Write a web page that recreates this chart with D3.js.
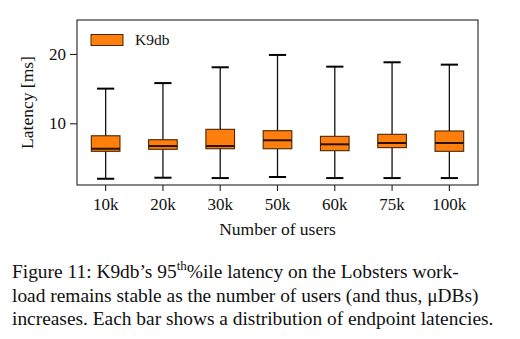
<!DOCTYPE html>
<html><head><meta charset="utf-8">
<script src="https://cdn.jsdelivr.net/npm/d3@7"></script>
<style>body{margin:0;background:#fff}svg{display:block}</style>
</head><body>
<svg id="c" width="520" height="339"></svg>
<script>
const categories = ["10k","20k","30k","50k","60k","75k","100k"];
const whiskerLow = [2.0, 2.15, 2.1, 2.25, 2.1, 2.1, 2.1];
const q1 =         [5.96, 6.25, 6.33, 6.33, 6.05, 6.49, 5.96];
const median =     [6.33, 6.72, 6.72, 7.55, 6.97, 7.16, 7.16];
const q3 =         [8.2, 7.63, 9.13, 8.93, 8.12, 8.41, 8.89];
const whiskerHigh= [15.0, 15.8, 18.08, 19.86, 18.17, 18.8, 18.46];
const yTicks = [10, 20];
const seriesName = "K9db";

const svg = d3.select("#c");
const serif = "'Liberation Serif','Times New Roman','DejaVu Serif',serif";
const L = 77, R = 478, T = 20, B = 185;
const x = d3.scaleBand().domain(categories).range([L, R]).padding(0);
const y = d3.scaleLinear().domain([1.1, 24.9]).range([B, T]);

const data = categories.map((c,i)=>({c, lo:whiskerLow[i], q1:q1[i], med:median[i], q3:q3[i], hi:whiskerHigh[i]}));
const bw = x.bandwidth()*0.5, cw = x.bandwidth()*0.3;

const g = svg.append("g");
const box = g.selectAll("g.b").data(data).enter().append("g");
const cx = d => x(d.c) + x.bandwidth()/2;
box.append("line").attr("x1",cx).attr("x2",cx).attr("y1",d=>y(d.hi)).attr("y2",d=>y(d.q3)).attr("stroke","#111").attr("stroke-width",1.3);
box.append("line").attr("x1",cx).attr("x2",cx).attr("y1",d=>y(d.q1)).attr("y2",d=>y(d.lo)).attr("stroke","#111").attr("stroke-width",1.3);
box.append("line").attr("x1",d=>cx(d)-cw/2).attr("x2",d=>cx(d)+cw/2).attr("y1",d=>y(d.hi)).attr("y2",d=>y(d.hi)).attr("stroke","#000").attr("stroke-width",2);
box.append("line").attr("x1",d=>cx(d)-cw/2).attr("x2",d=>cx(d)+cw/2).attr("y1",d=>y(d.lo)).attr("y2",d=>y(d.lo)).attr("stroke","#000").attr("stroke-width",2);
box.append("rect").attr("x",d=>cx(d)-bw/2).attr("width",bw).attr("y",d=>y(d.q3)).attr("height",d=>y(d.q1)-y(d.q3))
  .attr("fill","#ff7f0e").attr("stroke","#4a2600").attr("stroke-width",1.1);
box.append("line").attr("x1",d=>cx(d)-bw/2).attr("x2",d=>cx(d)+bw/2).attr("y1",d=>y(d.med)).attr("y2",d=>y(d.med)).attr("stroke","#2a1200").attr("stroke-width",2);

// frame
svg.append("rect").attr("x",L).attr("y",T).attr("width",R-L).attr("height",B-T).attr("fill","none").attr("stroke","#222").attr("stroke-width",1.1);

// axes
const ya = svg.append("g").attr("transform",`translate(${L},0)`).call(d3.axisLeft(y).tickValues(yTicks).tickSize(7).tickPadding(4));
ya.select(".domain").remove();
ya.selectAll("line").attr("stroke","#222").attr("stroke-width",1.1);
ya.selectAll("text").attr("font-family",serif).attr("font-size",17).attr("fill","#111");
const xa = svg.append("g").attr("transform",`translate(0,${B})`).call(d3.axisBottom(x).tickSize(6).tickPadding(7));
xa.select(".domain").remove();
xa.selectAll("line").attr("stroke","#222").attr("stroke-width",1.1);
xa.selectAll("text").attr("font-family",serif).attr("font-size",17).attr("fill","#111");

svg.append("text").attr("x",(L+R)/2).attr("y",235).attr("text-anchor","middle").attr("font-family",serif).attr("font-size",17.5).attr("fill","#111").text("Number of users");
svg.append("text").attr("transform",`translate(33,${(T+B)/2}) rotate(-90)`).attr("text-anchor","middle").attr("font-family",serif).attr("font-size",17.5).attr("fill","#111").text("Latency [ms]");

// legend
svg.append("rect").attr("x",91).attr("y",34.5).attr("width",32).attr("height",11).attr("fill","#ff7f0e").attr("stroke","#4a2600").attr("stroke-width",1);
svg.append("text").attr("x",135).attr("y",45).attr("font-family",serif).attr("font-size",15.5).attr("fill","#111").text(seriesName);

// caption
const cap = svg.append("g").attr("font-family",serif).attr("font-size",19.4).attr("fill","#111");
const l1 = cap.append("text").attr("x",12).attr("y",278);
l1.append("tspan").text("Figure 11: K9db’s 95");
l1.append("tspan").attr("dy",-8).attr("font-size",13).text("th");
l1.append("tspan").attr("dy",8).text("%ile latency on the Lobsters work-");
cap.append("text").attr("x",12).attr("y",301.5).text("load remains stable as the number of users (and thus, μDBs)");
cap.append("text").attr("x",12).attr("y",325).text("increases. Each bar shows a distribution of endpoint latencies.");
</script>
</body></html>
